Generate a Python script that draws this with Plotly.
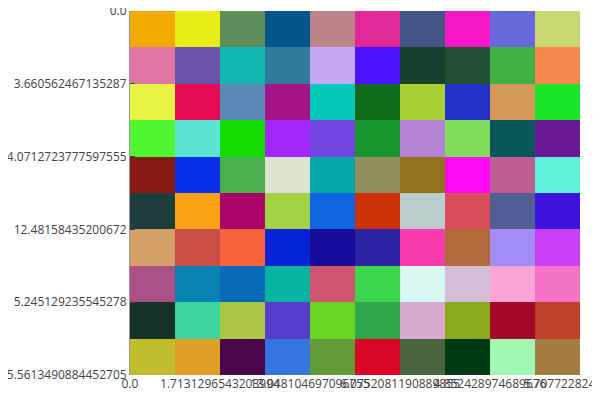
import plotly.graph_objects as go

# Cell colours, row by row (top to bottom), left to right
row0 = ["#F2A900", "#E8EC14", "#5E8F5A", "#02548A", "#BC8389", "#E02896", "#445484", "#F817C8", "#6769DB", "#C8D66F"]
row1 = ["#E274A2", "#6B52AA", "#10B8B0", "#327C9A", "#C7A8F5", "#4C12FC", "#14402C", "#234E34", "#40B042", "#F8874F"]
row2 = ["#E8F444", "#E40C56", "#5A8BB6", "#A41688", "#04C8B8", "#0E6A1A", "#A8D036", "#2330C8", "#D69858", "#1AE62A"]
row3 = ["#50F634", "#5CE4D6", "#12DA02", "#A228FC", "#7044E0", "#18942E", "#B282D4", "#80DC58", "#08565C", "#6A1894"]
row4 = ["#881C12", "#0A30EE", "#4AB04C", "#DAE4CE", "#04A6A8", "#928E5E", "#92721C", "#FC0AF4", "#BE5E94", "#5EF2D8"]
row5 = ["#1E3E3E", "#FCA216", "#AA066A", "#A2D244", "#1064E0", "#CC3206", "#BACCCC", "#D84E5A", "#525E94", "#3C14DA"]
row6 = ["#D4A068", "#CA4E44", "#F8643A", "#0624D6", "#160E9A", "#2C24A2", "#F83CAE", "#B46A3C", "#A48CF6", "#CA40F4"]
row7 = ["#AA5086", "#0882B2", "#0A6ABA", "#06B4A2", "#D2546E", "#3AD64C", "#D6F8F0", "#D2BCD8", "#F8A4D6", "#F472C6"]
row8 = ["#14322A", "#3CD49A", "#ACC644", "#583CCC", "#68D424", "#30A64C", "#DAAACC", "#8AAA1C", "#A40A2A", "#BE4028"]
row9 = ["#C0BE2E", "#E09E26", "#4A084C", "#3674E0", "#649A3A", "#DA0628", "#4A643E", "#003A14", "#A2F8B2", "#A27C40"]

tick_positions = [0, 2, 4, 6, 8, 10]
x_tick_labels = ["0.0", "1.7131296543203994", "13.048104697096755",
                 "6.0752081190889855", "4.852428974689676", "5.707722824248621"]
y_tick_labels = ["0.0", "3.660562467135287", "4.0712723777597555",
                 "12.48158435200672", "5.245129235545278", "5.5613490884452705"]

rows = [row0, row1, row2, row3, row4, row5, row6, row7, row8, row9]


def hex_to_rgb(h):
    h = h.lstrip("#")
    return [int(h[i:i + 2], 16) for i in (0, 2, 4)]


z = [[hex_to_rgb(c) for c in r] for r in rows]

fig = go.Figure(go.Image(z=z, x0=0.5, dx=1, y0=0.5, dy=1, hoverinfo="skip"))

fig.update_layout(
    width=600, height=400,
    margin=dict(l=122, r=28, t=3, b=33, autoexpand=False),
    paper_bgcolor="white", plot_bgcolor="white",
    font=dict(color="#444", size=12),
    showlegend=False,
)
fig.update_xaxes(
    range=[0, 10], autorange=False, tickmode="array", tickvals=tick_positions, ticktext=x_tick_labels,
    tickangle=0, automargin=False, constrain="range", ticklabeloverflow="allow",
    showgrid=False, zeroline=False, showline=False, ticks="",
)
fig.update_yaxes(
    range=[10, 0], autorange=False, scaleanchor=False, automargin=False, constrain="range",
    tickmode="array", tickvals=tick_positions, ticktext=y_tick_labels, ticklabeloverflow="allow",
    showgrid=False, showline=True, linecolor="#999", linewidth=1,
    zeroline=True, zerolinecolor="#444", zerolinewidth=1, layer="above traces",
    ticks="inside", ticklen=5, tickcolor="#444",
)

fig.write_html("out.html")
